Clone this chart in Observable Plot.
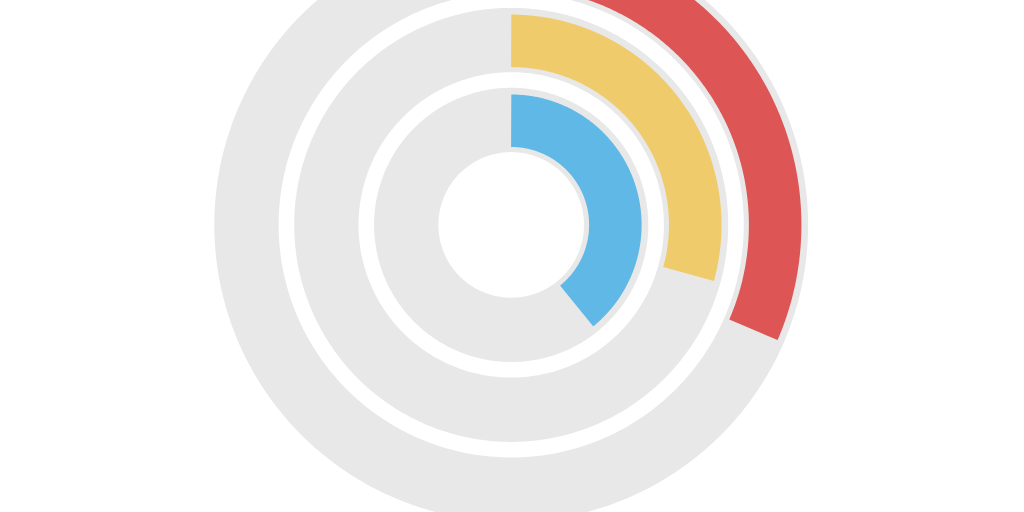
<!DOCTYPE html>
<html>
<head>
<meta charset="utf-8">
<script src="https://cdn.jsdelivr.net/npm/d3@7"></script>
<script src="https://cdn.jsdelivr.net/npm/@observablehq/plot@0.6"></script>
<style>
  html, body { margin: 0; padding: 0; background: #ffffff; overflow: hidden; }
  #chart svg { display: block; }
</style>
</head>
<body>
<div id="chart"></div>
<script>
// ---- data (inner ring → outer ring) ----
const categories = ["A", "B", "C"];
const values = [39.2, 29.3, 31.5];
const colors = ["#5fb8e5", "#f0cb6b", "#dd5555"];
const trackColor = "#e8e8e8";
const maxValue = 100;

// ---- layout ----
const W = 1024, H = 512;
const frameBottomInset = 63.2;     // puts the centre at y≈224
const frameRightInset = 2.6;       // puts the centre at x≈511
const domainDeg = 60;              // angular radius of the projection domain
const domainPx = (H - frameBottomInset) / 2;
const pxToDeg = domainDeg / domainPx;

// radial band scale (pixels from centre)
const ring = d3.scaleBand().domain(categories).range([72.8, 296.9]).paddingInner(0.195);
const barInsetInner = 5.1, barInsetOuter = 6.7;
const barWidth = ring.bandwidth() - barInsetInner - barInsetOuter;

// value → longitude (clockwise from the top)
const angle = d3.scaleLinear().domain([0, maxValue]).range([180, -180]);
const latOf = (px) => 90 - px * pxToDeg;

const tracks = categories.map((c) => ({
  cat: c,
  geom: d3.geoCircle().center([0, 90])
    .radius((ring(c) + ring.bandwidth() / 2) * pxToDeg).precision(1)()
}));

const bars = categories.map((c, i) => {
  const v = values[i];
  const lat = latOf(ring(c) + barInsetInner + barWidth / 2);
  const n = Math.max(2, Math.ceil(v * 3.6 * 2));
  return {
    cat: c,
    value: v,
    geom: {
      type: "LineString",
      coordinates: d3.range(n + 1).map((k) => [angle((v * k) / n), lat])
    }
  };
});

const chart = Plot.plot({
  width: W,
  height: H,
  margin: 0,
  style: { background: "#ffffff" },
  projection: {
    type: "azimuthal-equidistant",
    rotate: [0, -90],
    domain: d3.geoCircle().center([0, 90]).radius(domainDeg).precision(1)(),
    insetBottom: frameBottomInset,
    insetRight: frameRightInset,
    clip: false
  },
  color: { domain: categories, range: colors },
  marks: [
    Plot.geo(tracks, {
      geometry: "geom",
      fill: "none",
      stroke: trackColor,
      strokeWidth: ring.bandwidth()
    }),
    Plot.geo(bars, {
      geometry: "geom",
      fill: "none",
      stroke: "cat",
      strokeWidth: barWidth,
      strokeLinecap: "butt"
    })
  ]
});

document.getElementById("chart").append(chart);
</script>
</body>
</html>
